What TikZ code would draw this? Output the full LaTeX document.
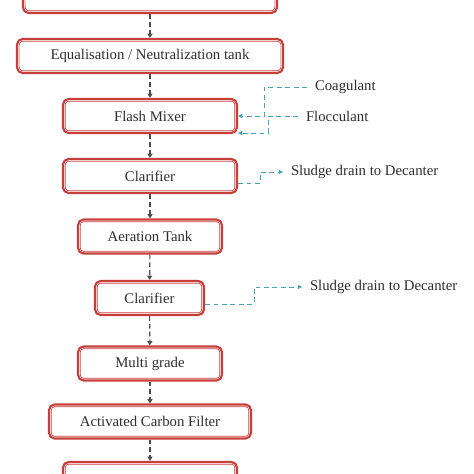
\documentclass[tikz,border=0pt]{standalone}
\usepackage{fontspec}
\setmainfont{Liberation Serif}
\usetikzlibrary{arrows.meta,calc}
\definecolor{boxred}{RGB}{200,62,58}
\definecolor{feedteal}{RGB}{72,160,188}
\definecolor{textgray}{RGB}{45,45,45}
\tikzset{
  stage/.style={draw=boxred, line width=1.5pt, rounded corners=4pt, minimum height=0.85cm,
    text=textgray, font=\fontsize{10.5}{12}\selectfont,
    append after command={\pgfextra{\draw[boxred, line width=0.5pt, rounded corners=2.5pt]
      ([shift={(2.3pt,-2.3pt)}]\tikzlastnode.north west) rectangle
      ([shift={(-2.3pt,2.3pt)}]\tikzlastnode.south east);}}},
  flow/.style={draw=black!70, line width=0.8pt, dash pattern=on 3.5pt off 2pt,
    -{Triangle[length=3pt,width=3.5pt]}},
  feed/.style={draw=feedteal, line width=0.6pt, dash pattern=on 3.5pt off 2.5pt},
  label/.style={text=textgray, font=\fontsize{10.5}{12}\selectfont, anchor=west,
    inner xsep=5.5pt, inner ysep=1pt}
}
\begin{document}
\begin{tikzpicture}[x=0.025cm, y=-0.025cm]
\useasboundingbox (0,0) rectangle (474,474);
\clip (0,0) rectangle (474,474);
% process stages
\node[stage, minimum width=6.35cm] (top) at (150,-4) {};
\node[stage, minimum width=6.65cm] (equal) at (150,56) {Equalisation / Neutralization tank};
\node[stage, minimum width=4.35cm] (flash) at (150,116) {Flash Mixer};
\node[stage, minimum width=4.35cm] (clar1) at (150,176) {Clarifier};
\node[stage, minimum width=3.6cm] (aer) at (150,236.5) {Aeration Tank};
\node[stage, minimum width=2.725cm] (clar2) at (149.5,298) {Clarifier};
\node[stage, minimum width=3.6cm] (multi) at (150,363.5) {Multi grade};
\node[stage, minimum width=5.05cm] (carbon) at (150,421.5) {Activated Carbon Filter};
\node[stage, minimum width=4.35cm] (bottom) at (150,479) {};
% side labels
\node[label] (coag) at (307,87) {Coagulant};
\node[label] (flocc) at (298,116) {Flocculant};
\node[label] (sludge1) at (283,172) {Sludge drain to Decanter};
\node[label] (sludge2) at (302,287) {Sludge drain to Decanter};
% main flow
\draw[flow] (top) -- (equal);
\draw[flow] (equal) -- (flash);
\draw[flow] (flash) -- (clar1);
\draw[flow] (clar1) -- (aer);
\draw[flow] (aer) -- (clar2);
\draw[flow] (clar2) -- (multi);
\draw[flow] (multi) -- (carbon);
\draw[flow] (carbon) -- (bottom);
% dosing and sludge lines
\draw[feed, -{Triangle[length=3pt,width=3pt]}] (coag.west) -| ($(flash.east)+(26,0)$) -- (flash.east);
\draw[feed, -{Triangle[length=3pt,width=3pt]}] (flocc.west) -| ($(flash.south east)+(30,-1)$) -- ($(flash.south east)+(0,-1)$);
\draw[feed, -{Triangle[length=3pt,width=3pt]}] ($(clar1.east)+(0,7)$) -- ++(22,0) |- (sludge1.west);
\draw[feed, -{Triangle[length=3pt,width=3pt]}] ($(clar2.east)+(0,6)$) -- ++(49,0) |- (sludge2.west);
\end{tikzpicture}
\end{document}
